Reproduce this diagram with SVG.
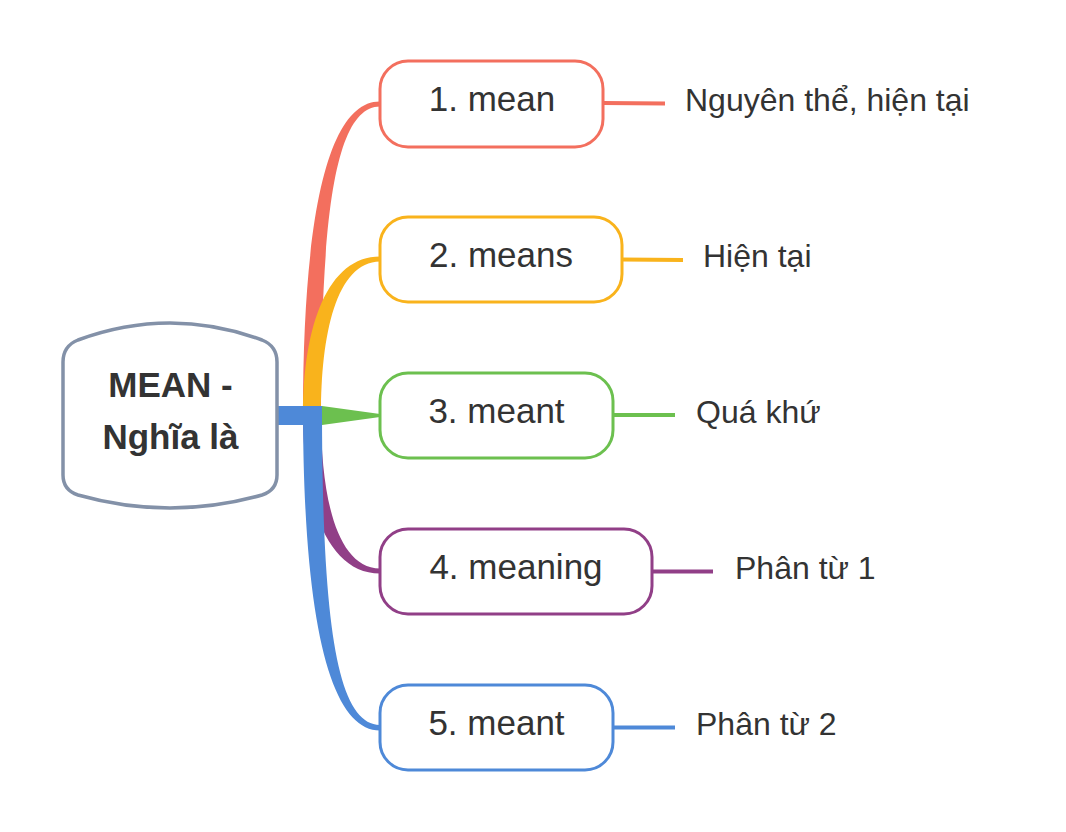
<svg xmlns="http://www.w3.org/2000/svg" width="1066" height="832" viewBox="0 0 1066 832">
<style>
.node{fill:#fff;stroke-width:3}
.t{font-family:"Liberation Sans",Arial,sans-serif;fill:#333;font-size:35px;text-anchor:middle}
.lbl{font-family:"Liberation Sans",Arial,sans-serif;fill:#333;font-size:32px}
.stub{fill:none;stroke-width:4;stroke-linecap:butt}
</style>
<rect width="1066" height="832" fill="#fff"/>
<g id="connectors">
  <path d="M303,415 C303,200 332,101 380,101.5 L380,106.5 C338,107 321,200 321,415 Z" fill="#F36F5E"/>
  <path d="M303,415 C303,325 328,256.5 380,256.5 L380,261.5 C336,262 321,335 321,415 Z" fill="#F9B31C"/>
  <path d="M322,406 L380,414 L380,417 L322,425 Z" fill="#6CC04F"/>
  <path d="M303,415 C303,505 328,573.5 380,573.5 L380,568.5 C336,568 321,495 321,415 Z" fill="#913F87"/>
  <path d="M303,406 C303,630 332,730.5 380,730.5 L380,725 C338,724 322,630 322,406 Z" fill="#4E89D8"/>
  <rect x="277" y="406" width="45" height="19" fill="#4E89D8"/>
  <path class="stub" d="M603,103 L665,103.5" stroke="#F36F5E"/>
  <path class="stub" d="M622,259.5 L683,260" stroke="#F9B31C"/>
  <path class="stub" d="M613,415 L675,415" stroke="#6CC04F"/>
  <path class="stub" d="M652,571.5 L713,571.5" stroke="#913F87"/>
  <path class="stub" d="M613,727.5 L675,727.5" stroke="#4E89D8"/>
</g>
<g id="root">
  <path d="M63,362 Q63,346 78,340 Q170,306 262,340 Q277,346 277,362 L277,475 Q277,490 262,495 Q170,521 78,495 Q63,490 63,475 Z" fill="#fff" stroke="#8391A8" stroke-width="3.5"/>
  <text class="t" x="170.5" y="397" font-weight="bold">MEAN -</text>
  <text class="t" x="170.5" y="449" font-weight="bold">Nghĩa là</text>
</g>
<g id="n1">
  <rect class="node" x="380" y="61" width="223" height="86" rx="28" stroke="#F36F5E"/>
  <text class="t" x="492" y="111">1. mean</text>
</g>
<g id="n2">
  <rect class="node" x="380" y="217" width="242" height="85" rx="28" stroke="#F9B31C"/>
  <text class="t" x="501" y="267">2. means</text>
</g>
<g id="n3">
  <rect class="node" x="380" y="373" width="233" height="85" rx="28" stroke="#6CC04F"/>
  <text class="t" x="496.5" y="423">3. meant</text>
</g>
<g id="n4">
  <rect class="node" x="380" y="529" width="272" height="85" rx="28" stroke="#913F87"/>
  <text class="t" x="516" y="579">4. meaning</text>
</g>
<g id="n5">
  <rect class="node" x="380" y="685" width="233" height="85" rx="28" stroke="#4E89D8"/>
  <text class="t" x="496.5" y="735">5. meant</text>
</g>
<g id="l1"><text class="lbl" x="685" y="111">Nguyên thể, hiện tại</text></g>
<g id="l2"><text class="lbl" x="703" y="267">Hiện tại</text></g>
<g id="l3"><text class="lbl" x="696" y="423">Quá khứ</text></g>
<g id="l4"><text class="lbl" x="735" y="579">Phân từ 1</text></g>
<g id="l5"><text class="lbl" x="696" y="735">Phân từ 2</text></g>
</svg>
